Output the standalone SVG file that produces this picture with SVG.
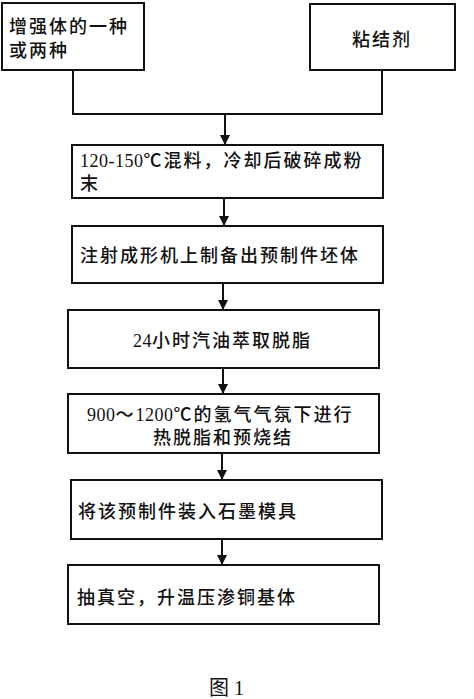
<svg xmlns="http://www.w3.org/2000/svg" width="474" height="699" viewBox="0 0 474 699">
<style>
.box{fill:#fff;stroke:#111;stroke-width:2}
.t{font-family:"Liberation Serif","Noto Sans CJK SC",serif;font-size:18px;font-weight:500;fill:#111;letter-spacing:2px}
.d{letter-spacing:0.5px;font-weight:400}
.conn{fill:none;stroke:#111;stroke-width:2}
.cap{font-family:"Liberation Serif","Noto Sans CJK SC",serif;font-size:20px;fill:#111}
</style>
<defs>
<marker id="ah" markerUnits="userSpaceOnUse" markerWidth="10" markerHeight="12" refX="10" refY="5" orient="auto" viewBox="0 0 10 10">
<path d="M0,0 L10,5 L0,10 z" fill="#111"/>
</marker>
</defs>
<rect width="474" height="699" fill="#fff"/>
<g id="connectors">
<polyline class="conn" points="73,70 73,114 382,114 382,70"/>
<line class="conn" x1="225" y1="114" x2="225" y2="145" marker-end="url(#ah)"/>
<line class="conn" x1="224" y1="198" x2="224" y2="226" marker-end="url(#ah)"/>
<line class="conn" x1="223" y1="283" x2="223" y2="310" marker-end="url(#ah)"/>
<line class="conn" x1="223" y1="368" x2="223" y2="394" marker-end="url(#ah)"/>
<line class="conn" x1="222" y1="453" x2="222" y2="480" marker-end="url(#ah)"/>
<line class="conn" x1="222" y1="539" x2="222" y2="565" marker-end="url(#ah)"/>
</g>
<g id="n1">
<rect class="box" x="2" y="3" width="142" height="67"/>
<text class="t" x="9" y="33">增强体的一种</text>
<text class="t" x="9" y="57">或两种</text>
</g>
<g id="n2">
<rect class="box" x="310" y="4" width="145" height="66"/>
<text class="t" x="352" y="46">粘结剂</text>
</g>
<g id="n3">
<rect class="box" x="72" y="145" width="311" height="53"/>
<text class="t" x="80" y="167"><tspan class="d">120-150</tspan>℃混料，冷却后破碎成粉</text>
<text class="t" x="80" y="190">末</text>
</g>
<g id="n4">
<rect class="box" x="72" y="226" width="311" height="57"/>
<text class="t" x="80" y="262">注射成形机上制备出预制件坯体</text>
</g>
<g id="n5">
<rect class="box" x="68" y="310" width="311" height="58"/>
<text class="t" x="133" y="347"><tspan class="d">24</tspan>小时汽油萃取脱脂</text>
</g>
<g id="n6">
<rect class="box" x="68" y="394" width="311" height="59"/>
<text class="t" x="87" y="421"><tspan class="d">900</tspan>～<tspan class="d">1200</tspan>℃的氢气气氛下进行</text>
<text class="t" x="153" y="444">热脱脂和预烧结</text>
</g>
<g id="n7">
<rect class="box" x="71" y="480" width="311" height="59"/>
<text class="t" x="78" y="518">将该预制件装入石墨模具</text>
</g>
<g id="n8">
<rect class="box" x="68" y="565" width="311" height="59"/>
<text class="t" x="77" y="604">抽真空，升温压渗铜基体</text>
</g>
<text class="cap" x="209" y="695">图 1</text>
</svg>
